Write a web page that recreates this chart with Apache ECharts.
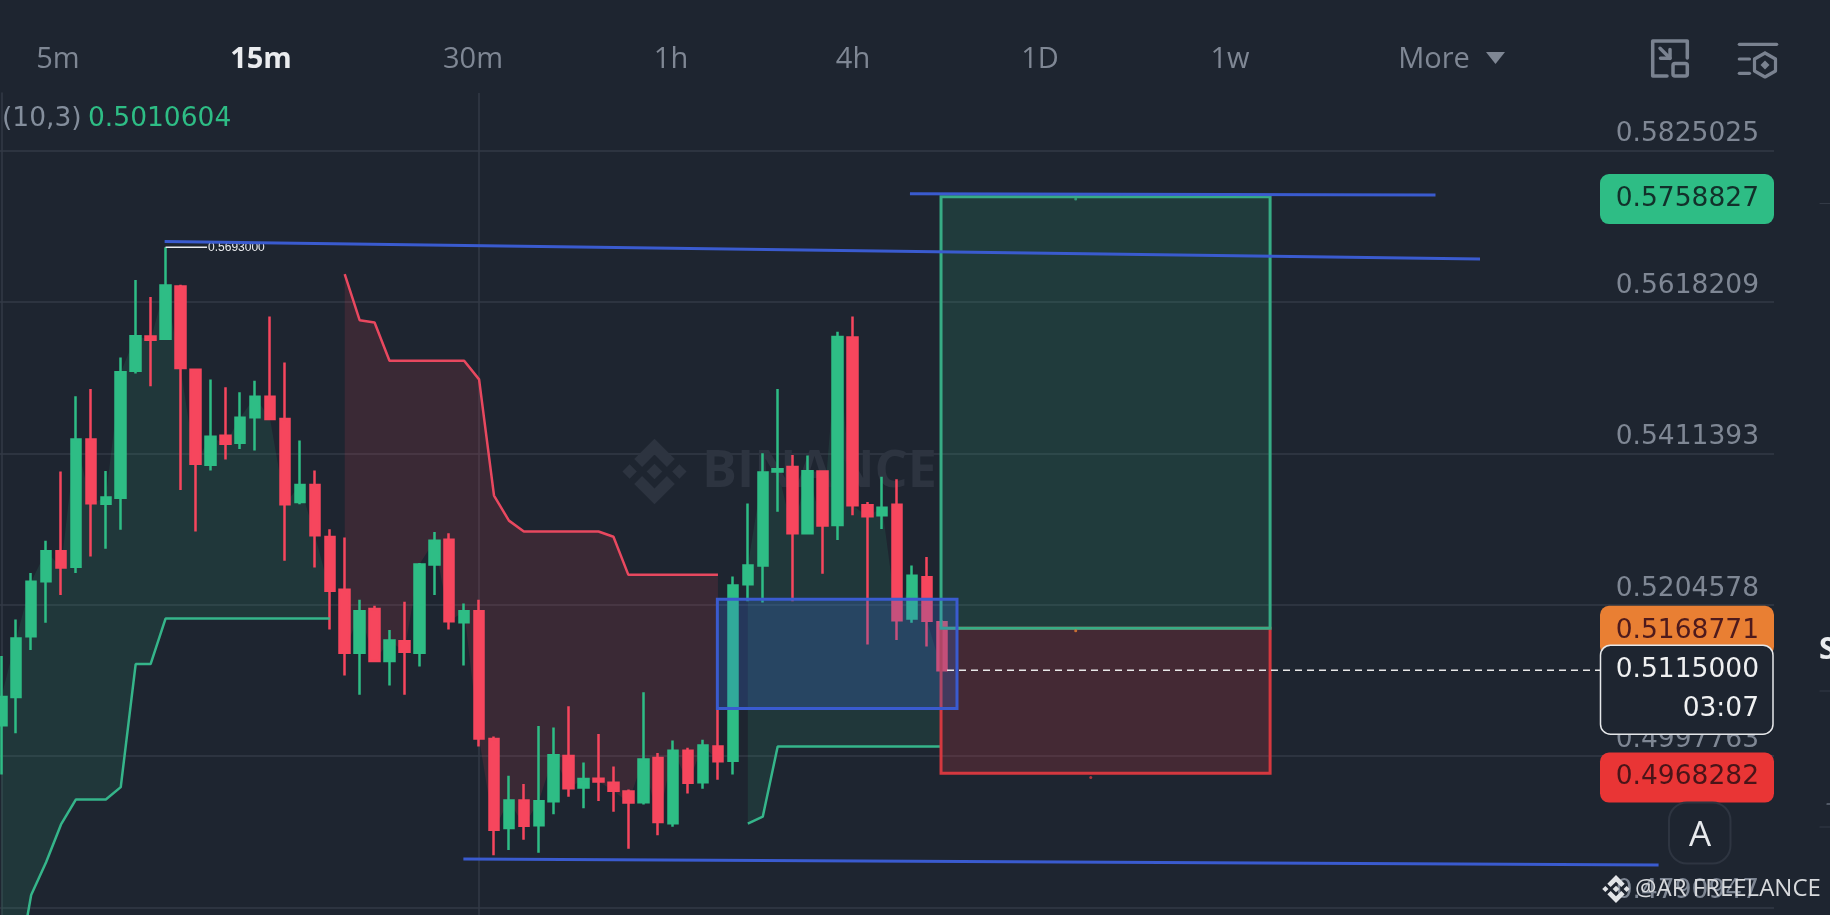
<!DOCTYPE html>
<html>
<head>
<meta charset="utf-8">
<style>html,body{margin:0;padding:0;background:#1E2530;overflow:hidden}#c{width:1830px;height:915px}</style>
<script src="https://cdn.jsdelivr.net/npm/echarts@6/dist/echarts.min.js"></script>
</head>
<body>
<div id="c"></div>
<script>
const open = [.50399,.50785,.51613,.52366,.52777,.52565,.54302,.53424,.53505,.55242,.55709,.55678,.56393,.55254,.53959,.54352,.54258,.54607,.54887,.54582,.53449,.53679,.52970,.52248,.51389,.51986,.51277,.51544,.51389,.52596,.52932,.51806,.51955,.50211,.48993,.49370,.49032,.49358,.49978,.49547,.49668,.49613,.49491,.49347,.49951,.49060,.50050,.49619,.50106,.49912,.52325,.52580,.53864,.53925,.53023,.53864,.53133,.55696,.53405,.53266,.53410,.51855,.52419,.51805];
const close = [.50785,.51582,.52360,.52777,.52553,.54302,.53430,.53511,.55223,.55715,.55665,.56406,.55279,.53972,.54339,.54246,.54601,.54887,.54582,.53418,.53679,.52995,.52235,.51389,.51955,.51277,.51557,.51401,.52596,.52920,.51818,.51955,.50218,.48971,.49370,.49026,.49358,.49989,.49536,.49663,.49630,.49502,.49342,.49929,.49076,.50050,.49613,.50122,.49906,.52309,.52580,.53853,.53897,.53023,.53869,.53128,.55702,.53405,.53255,.53371,.51833,.52441,.51827,.51150];
const low = [.49726,.50287,.51426,.51799,.52179,.52478,.52702,.52808,.53069,.55204,.55030,.55678,.53611,.53044,.53879,.54028,.54171,.54152,.54570,.52646,.53418,.52553,.51706,.51077,.50816,.51277,.50940,.50816,.51202,.52179,.51706,.51214,.50106,.48622,.48694,.48833,.48655,.49181,.49419,.49264,.49364,.49214,.48711,.49314,.48894,.49010,.49464,.49530,.49652,.49724,.52093,.52076,.53316,.52093,.53006,.52469,.52929,.53266,.51500,.53078,.51561,.51799,.51473,.51150];
const high = [.51345,.51843,.52478,.52920,.53866,.54893,.54993,.53872,.55422,.56481,.56250,.56930,.56418,.55273,.55124,.55018,.54949,.55105,.55983,.55354,.54289,.53879,.53076,.52963,.52111,.52030,.51700,.52086,.52615,.53038,.53020,.52061,.52111,.50244,.49707,.49596,.50388,.50366,.50659,.49890,.50277,.49834,.49519,.50847,.50017,.50189,.50089,.50200,.50615,.52430,.53427,.54113,.54993,.54091,.54085,.53881,.55774,.55984,.53449,.53792,.53759,.52580,.52696,.51833];
const upTrend = [.46365,.46925,.48077,.48525,.49042,.49384,.49384,.49384,.49552,.51233,.51233,.51855,.51855,.51855,.51855,.51855,.51855,.51855,.51855,.51855,.51855,.51855,.51855,
  null,null,null,null,null,null,null,null,null,null,null,null,null,null,null,null,null,null,null,null,null,null,null,null,null,null,null,
  .49054,.49148,.50106,.50106,.50106,.50106,.50106,.50106,.50106,.50106,.50106,.50106,.50106,.50106];
const downTrend = [null,null,null,null,null,null,null,null,null,null,null,null,null,null,null,null,null,null,null,null,null,null,null,
  .56562,.55933,.55902,.55379,.55379,.55379,.55379,.55379,.55379,.55124,.53537,.53194,.53045,.53045,.53045,.53045,.53045,.53045,.52973,.52453,.52453,.52453,.52453,.52453,.52453,.52453,
  null,null,null,null,null,null,null,null,null,null,null,null,null,null,null];
const yTicks = [0.5825025,0.5618209,0.5411393,0.5204578,0.4997763,0.4790947];
const xTicks = [32];
const trendA = [[10.94,.57007],[99.04,.56769]];
const trendB = [[60.86,.57661],[96.06,.57643]];
const trendC = [[30.95,.48570],[111.0,.48488]];
const highLabel = [[11,.5693],[13.78,.5693]];
const priceLine = [[63.34,.5115],[107.08,.5115]];
const redBox = [62.94,84.98,.51722,.49741];
const greenBox = [62.94,84.98,.57620,.51722];
const blueBox = [47.96,64.01,.52120,.50626];
const orderDots = [[71.96,.5758827],[71.96,.5168771],[72.97,.4968282]];
const tabs = [['5m',58],['15m',261],['30m',473],['1h',671],['4h',853],['1D',1040],['1w',1230],['More',1434]];

const BG='#1E2530', GREEN='#2EBD85', RED='#F6465D', BLUE='#3A5BCF';
const chart = echarts.init(document.getElementById('c'), null, {renderer:'canvas'});
const candles = open.map((o,i)=>[i,o,close[i],low[i],high[i]]);
const priceFont = '26.5px "DejaVu Sans"';

function bandSeries(trend, from, to, color){
  return {type:'custom', coordinateSystem:'cartesian2d', clip:true, silent:true, z:1, data:[[from,to]],
    encode:{x:[0,1]},
    renderItem:(p,api)=>{
      const pts=[];
      for(let i=from;i<=to;i++) pts.push(api.coord([i,trend[i]]));
      for(let i=to;i>=from;i--) pts.push(api.coord([i,close[i]]));
      return {type:'polygon',shape:{points:pts},style:{fill:color}};
    }};
}
function boxSeries(b, fill, stroke, w, z){
  return {type:'custom', coordinateSystem:'cartesian2d', clip:true, silent:true, z:z, data:[b],
    encode:{x:[0,1],y:[2,3]},
    renderItem:(p,api)=>{
      const a=api.coord([api.value(0),api.value(2)]), c=api.coord([api.value(1),api.value(3)]);
      return {type:'rect',shape:{x:a[0],y:a[1],width:c[0]-a[0],height:c[1]-a[1]},style:{fill:fill,stroke:stroke,lineWidth:w}};
    }};
}
function lineSeries(data,color,w,z,extra){
  return Object.assign({type:'line',data:data,showSymbol:false,symbol:'none',silent:true,z:z,
    lineStyle:{color:color,width:w},connectNulls:false,clip:true},extra||{});
}

chart.setOption({
  animation:false,
  backgroundColor:BG,
  grid:{left:0,right:56,top:93,bottom:0,containLabel:false},
  xAxis:{type:'value',min:-0.087,max:118.73,
    axisLine:{show:false},axisLabel:{show:false,customValues:xTicks},
    axisTick:{show:false,customValues:xTicks},
    splitLine:{show:true,lineStyle:{color:'#333A46',width:1.5}}},
  yAxis:{type:'value',position:'right',min:.478048,max:.590373,
    axisLine:{show:true,lineStyle:{color:'#333A46',width:1.5}},
    axisTick:{show:false,customValues:yTicks},
    axisLabel:{show:true,inside:true,margin:15,customValues:yTicks,color:'#7F8794',
      fontFamily:'DejaVu Sans',fontSize:26.5,verticalAlign:'bottom',lineHeight:32,
      formatter:v=>v.toFixed(7)},
    splitLine:{show:true,lineStyle:{color:'#333A46',width:1.5}}},
  series:[
    bandSeries(upTrend,0,22,'rgba(46,189,133,0.12)'),
    bandSeries(downTrend,23,49,'rgba(246,70,93,0.13)'),
    bandSeries(upTrend,50,63,'rgba(46,189,133,0.12)'),
    {type:'candlestick',data:candles,z:3,barWidth:10,silent:true,clip:true,
      encode:{x:0,y:[1,2,3,4]},
      itemStyle:{color:GREEN,color0:RED,borderColor:GREEN,borderColor0:RED,borderWidth:2.5}},
    lineSeries(upTrend.map((v,i)=>[i,v]),'#35B58A',2.5,4),
    lineSeries(downTrend.map((v,i)=>[i,v]),'#E8485F',2.5,4),
    boxSeries(redBox,'rgba(220,60,70,0.2)','#D5383F',3,5),
    boxSeries(greenBox,'rgba(46,189,133,0.15)','#37AC85',3,5),
    boxSeries(blueBox,'rgba(60,110,220,0.25)',BLUE,3,5),
    lineSeries(highLabel,'#EAECEF',1.5,6,{endLabel:{show:true,distance:1,formatter:()=>'0.5693000',color:'#EAECEF',font:priceFont}}),
    lineSeries(trendA,BLUE,3,7),
    lineSeries(trendB,BLUE,3,7),
    lineSeries(trendC,BLUE,3,7),
    lineSeries(priceLine,'#E8E8E8',1.5,7,{lineStyle:{color:'#E8E8E8',width:1.5,type:[7,5]}}),
    {type:'scatter',data:orderDots,symbolSize:3,z:8,silent:true,
      itemStyle:{color:p=>['#37AC85','#E97F33','#D5383F'][p.dataIndex]}}
  ]
});

const py = v => chart.convertToPixel({yAxisIndex:0}, v);
const G = [];
function txt(t,x,y,fill,font,align,z){G.push({type:'text',silent:true,z:z==null?100:z,style:{text:t,x:x,y:y,fill:fill,font:font,textAlign:align||'right',textVerticalAlign:'middle'}});}
function rr(x,y,w,h,r,fill,stroke,lw,z){G.push({type:'rect',silent:true,z:z==null?100:z,shape:{x,y,width:w,height:h,r},style:{fill:fill||'none',stroke:stroke||'none',lineWidth:lw||0}});}
function poly(points,fill,z){G.push({type:'polygon',silent:true,z:z==null?100:z,shape:{points},style:{fill}});}
function pl(points,stroke,lw,z){G.push({type:'polyline',silent:true,z:z==null?100:z,shape:{points},style:{stroke,lineWidth:lw,fill:'none',lineCap:'round',lineJoin:'round'}});}
function logo(cx,cy,s,fill,z){
  const P=a=>a.map(p=>[cx+p[0]*s,cy+p[1]*s]);
  poly(P([[0,-.24],[.24,0],[0,.24],[-.24,0]]),fill,z);
  poly(P([[-.76,-.22],[-.54,0],[-.76,.22],[-.98,0]]),fill,z);
  poly(P([[.76,-.22],[.98,0],[.76,.22],[.54,0]]),fill,z);
  poly(P([[0,-1],[.62,-.38],[.38,-.14],[0,-.52],[-.38,-.14],[-.62,-.38]]),fill,z);
  poly(P([[0,1],[.62,.38],[.38,.14],[0,.52],[-.38,.14],[-.62,.38]]),fill,z);
}

// watermark below the candles
logo(654.5,471.5,32.7,'#2D3440',1);
txt('BINANCE',702,472,'#2D3440','bold 52px "Open Sans"','left',1);

// timeframe tabs
tabs.forEach(t=>txt(t[0],t[1],60,t[0]==='15m'?'#EAECEF':'#7F8794',(t[0]==='15m'?'bold ':'')+'29px "Open Sans"','center'));
poly([[1486,52],[1505,52],[1495.5,64]],'#7F8794');

// indicator legend
txt('(10,3)',2,119,'#848E9C',priceFont,'left');
txt('0.5010604',88,119,GREEN,priceFont,'left');

// toolbar icons
pl([[1687.3,58],[1687.3,41],[1652.7,41],[1652.7,76],[1667,76]],'#7A8290',3.5);
rr(1673,63.5,14.3,12.5,2,null,'#7A8290',3.5);
pl([[1660,48.3],[1670,58.3]],'#7A8290',3.5);
pl([[1670,49.5],[1670,58.3],[1660.5,58.3]],'#7A8290',3.5);
pl([[1739.3,44.3],[1776.7,44.3]],'#7A8290',3.2);
pl([[1739.3,59],[1749.5,59]],'#7A8290',3.2);
pl([[1739.3,73.3],[1749.5,73.3]],'#7A8290',3.2);
pl([[1765,53],[1775.5,59],[1775.5,71],[1765,77],[1754.5,71],[1754.5,59],[1765,53]],'#7A8290',3.2);
poly([[1765,60.5],[1769.5,65],[1765,69.5],[1760.5,65]],'#7A8290');

// price tags
rr(1600,py(0.5758827)-25,174,50,9,GREEN);
txt('0.5758827',1759,py(0.5758827),'#12302A',priceFont);
rr(1600,py(0.5168771)-25,174,50,9,'#E97F33');
txt('0.5168771',1759,py(0.5168771),'#4E1A1C',priceFont);
rr(1600,py(0.4968282)-25,174,50,9,'#E93535');
txt('0.4968282',1759,py(0.4968282),'#4A1418',priceFont);
rr(1600.5,py(0.5115)-25,172.5,89,10,BG,'#E6E8EA',1.5);
txt('0.5115000',1759,py(0.5115),'#F0F1F2',priceFont);
txt('03:07',1759,py(0.5115)+39,'#F0F1F2',priceFont);

// auto-scale button
rr(1669,802.5,61.5,61,18,BG,'#2E3541',2);
txt('A',1700,836,'#E8EAED','35px "Open Sans"','center');

// author mark
logo(1616,889,14,'#E2E4E7',101);
txt('@AR FREELANCE',1635,889,'#D8DADD','24px "Open Sans"','left',101);

// right panel fragments
pl([[1820,203.5],[1830,203.5]],'#333A46',1.2);
pl([[1820,691],[1830,691]],'#333A46',1.2);
pl([[1820,827],[1830,827]],'#333A46',1.2);
pl([[1827,804],[1830,804]],'#848E9C',1.2);
txt('S',1819,650,'#EAECEF','bold 30px "Open Sans"','left');

chart.setOption({graphic:{elements:G}});
</script>
</body>
</html>
